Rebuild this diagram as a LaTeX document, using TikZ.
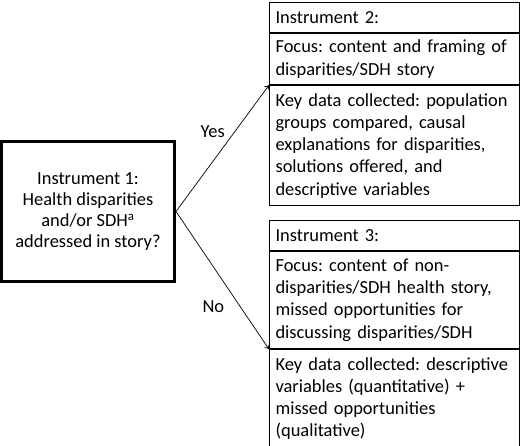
\documentclass[tikz,border=0pt]{standalone}
\usepackage{fontspec}
\setmainfont{Carlito}
\frenchspacing
\usetikzlibrary{positioning, arrows.meta}
\begin{document}
\begin{tikzpicture}[x=1bp, y=1bp,
  ibox/.style={draw, line width=1.1bp, text width=238bp, inner xsep=6bp, inner ysep=3bp, align=left, anchor=north west, font=\fontsize{18.5}{22.3}\selectfont},
  qbox/.style={draw, line width=2.7bp, minimum width=173.3bp, minimum height=140.3bp, align=center, font=\fontsize{18.5}{21}\selectfont},
  lbl/.style={font=\fontsize{18.5}{21}\selectfont, inner sep=0pt},
  conn/.style={-{To[length=4bp, width=6bp]}, line width=0.7bp}]
\useasboundingbox (0,0) rectangle (520,-446);
\node[qbox] (i1) at (88,-211.5) {Instrument 1:\\Health disparities\\and/or SDH\textsuperscript{a}\\addressed in story?};
\node[ibox, minimum height=30bp] (i2) at (269,-2) {Instrument 2:};
\node[ibox, minimum height=51bp, below=0pt of i2] (f2) {Focus: content and framing of\\disparities/SDH story};
\node[ibox, minimum height=120bp, below=0pt of f2] (k2) {Key data collected: population\\groups compared, causal\\explanations for disparities,\\solutions offered, and\\descriptive variables};
\node[ibox, minimum height=30bp] (i3) at (269,-220) {Instrument 3:};
\node[ibox, minimum height=97bp, below=0pt of i3] (f3) {Focus: content of non-\\disparities/SDH health story,\\missed opportunities for\\discussing disparities/SDH};
\node[ibox, minimum height=98bp, below=0pt of f3] (k3) {Key data collected: descriptive\\variables (quantitative) +\\missed opportunities\\(qualitative)};
\draw[conn] (i1.east) -- (f2.south west) node[lbl, pos=0.635, left=10bp] {Yes};
\draw[conn] (i1.east) -- (f3.south west) node[lbl, pos=0.694, left=16bp] {No};
\end{tikzpicture}
\end{document}
